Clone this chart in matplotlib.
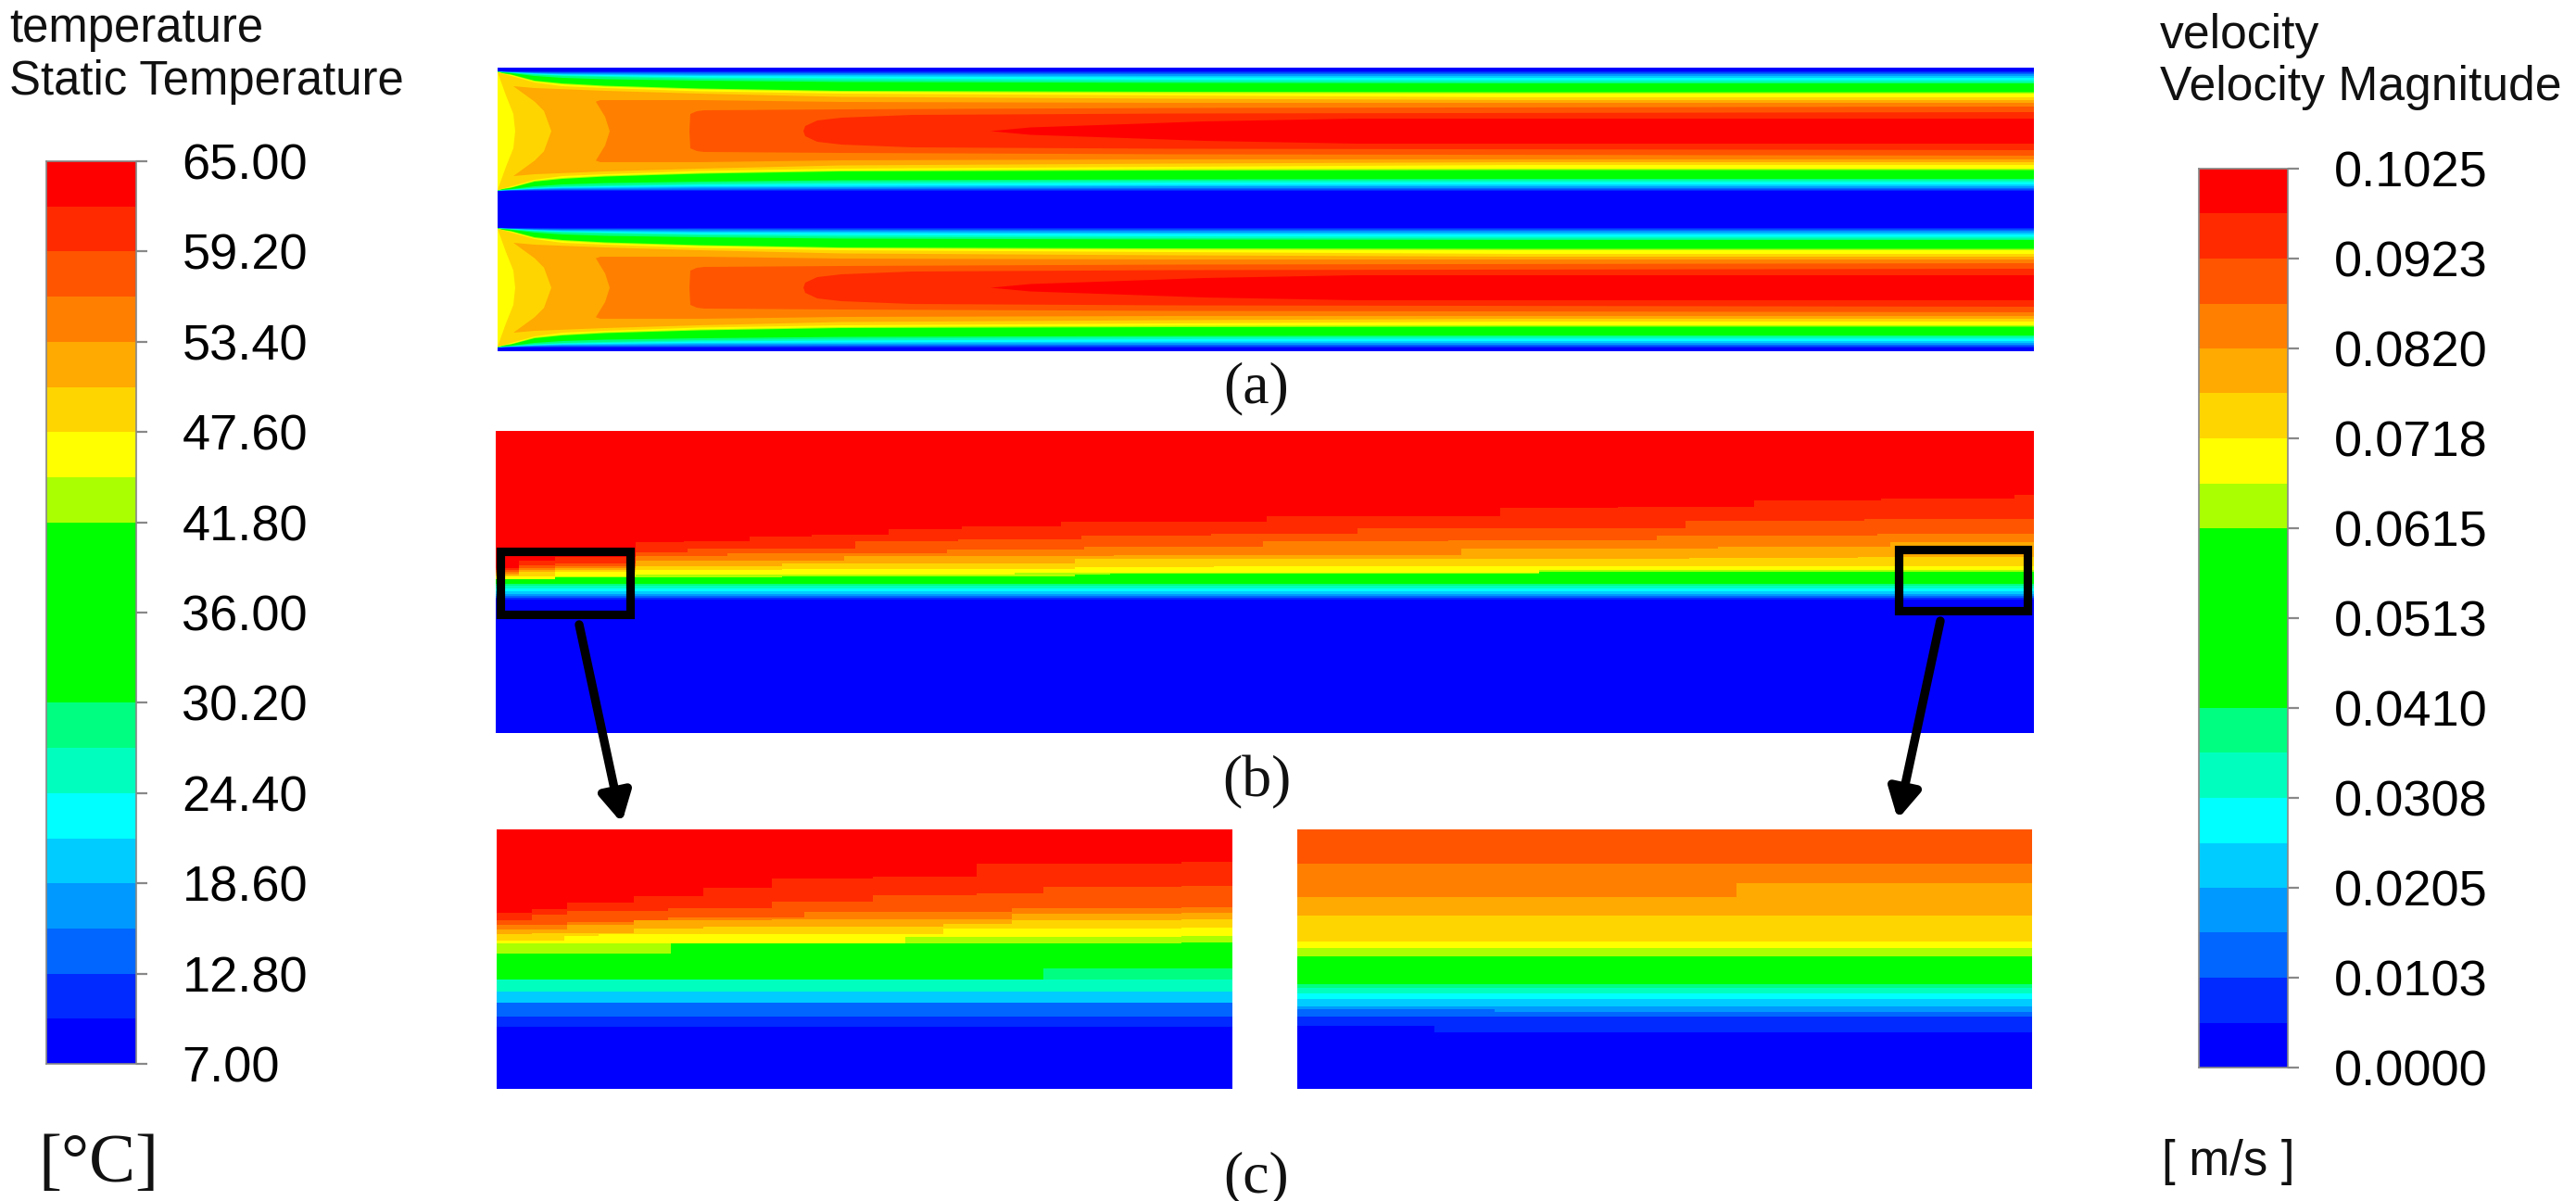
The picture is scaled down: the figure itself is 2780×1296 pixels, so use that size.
import matplotlib
matplotlib.use('Agg')
import matplotlib.pyplot as plt
from matplotlib.patches import Rectangle

W, H = 2780, 1296
plt.rcParams['font.family'] = ['Liberation Sans', 'DejaVu Sans']

# band colours, cold to hot (index 0 is the lowest band of the legend)
band_colors = ['#0000ff', '#002aff', '#0066ff', '#0099ff', '#00ccff', '#00ffff', '#00ffbf', '#00ff80',
               '#00ff00', '#00ff00', '#00ff00', '#00ff00', '#aaff00', '#ffff00', '#ffd500', '#ffaa00',
               '#ff8000', '#ff5500', '#ff2a00', '#ff0000']

temp_levels = [7.0, 9.9, 12.8, 15.7, 18.6, 21.5, 24.4, 27.3, 30.2, 33.1, 36.0, 38.9, 41.8, 44.7, 47.6,
               50.5, 53.4, 56.3, 59.2, 62.1, 65.0]
temp_ticks = [7.00, 12.80, 18.60, 24.40, 30.20, 36.00, 41.80, 47.60, 53.40, 59.20, 65.00]
vel_levels = [0.0, 0.0051, 0.0103, 0.0154, 0.0205, 0.0256, 0.0308, 0.0359, 0.0410, 0.0461, 0.0513,
              0.0564, 0.0615, 0.0666, 0.0718, 0.0769, 0.0820, 0.0871, 0.0923, 0.0974, 0.1025]
vel_ticks = [0.0, 0.0103, 0.0205, 0.0308, 0.0410, 0.0513, 0.0615, 0.0718, 0.0820, 0.0923, 0.1025]

# panel (a): contour of each band as (distance along tube, distance from wall)
tube_centres = [68.5, 237.5]
tube_half = 64.5
wall_x = [0, 6, 15, 40, 70, 116, 218, 371, 728, 1100, 1658]
wall_bands = {
    1: [0, 0, 0, 0, 0, 0, 0, 0, 0, 0, 0],
    2: [.1, .3, .5, .8, 1, 1, 1, 1.5, 1.5, 1.5, 1.5],
    3: [.2, .5, .8, 1.5, 2, 2, 2.5, 2.5, 3, 3, 3],
    4: [.3, .7, 1, 2, 2.8, 3, 3.8, 4, 5, 5, 5],
    5: [.3, .8, 1.2, 2.5, 3.5, 4, 5, 5.5, 6.5, 7, 7],
    6: [.4, .9, 1.4, 3, 4.2, 5, 6.5, 7.5, 9, 9.5, 9.5],
    7: [.4, 1, 1.5, 3.5, 5, 6, 8, 9.5, 11, 11.5, 11.5],
    8: [.5, 1.2, 2, 5, 7, 8.5, 10, 11.5, 12.5, 13, 13],
    12: [.6, 2, 3.5, 10, 13, 15.5, 18.5, 21, 22, 22.5, 22.5],
    13: [.8, 2.5, 4, 11, 14, 16.5, 19.5, 22, 23.5, 24, 24],
}
core_bands = {
    14: ([19, 17, 9, 0, 15, 40, 70, 116, 218, 371, 728, 1100, 1658],
         [64.5, 46, 26, 1, 5, 12, 16, 18, 21.5, 24, 26, 28, 28]),
    15: ([58, 50, 40, 17, 40, 116, 218, 371, 728, 1100, 1658],
         [64.5, 42.7, 32.7, 16, 18, 21, 24, 27.5, 29.5, 31, 31]),
    16: ([121, 116, 106, 111, 218, 371, 728, 1658],
         [64.5, 49, 32.7, 31, 31, 33, 34, 34]),
    17: ([207, 208, 215, 223, 371, 728, 1658],
         [64.5, 46, 43, 42, 41, 39.5, 38]),
    18: ([330, 332, 345, 371, 447, 728, 1658],
         [64.5, 59, 53, 50, 47, 45.5, 44]),
    19: ([532, 575, 678, 763, 927, 1658],
         [64.5, 60.5, 57, 54, 51, 51]),
}

# panel (b): top edge of each band along the tube, hot to cold
b_edges = {
    18: ([0, 25, 64, 151, 203, 274, 341, 424, 503, 610, 832, 1084, 1211, 1358, 1495, 1639],
         [148, 140, 136, 120, 119, 114, 112, 106, 103, 98, 92, 83, 82, 75, 73, 69]),
    17: ([0, 25, 64, 151, 207, 388, 499, 632, 772, 930, 1284, 1477],
         [150, 145, 143, 131, 127, 119, 117, 113, 111, 105, 97, 95]),
    16: ([0, 25, 64, 151, 250, 487, 635, 828, 1028, 1253, 1491],
         [152, 148, 146, 135, 132, 128, 125, 119, 118, 113, 111]),
    15: ([0, 25, 64, 151, 376, 667, 1042, 1319, 1505],
         [154, 150, 148, 140, 135, 134, 127, 125, 120]),
    14: ([0, 25, 64, 151, 309, 625, 1288, 1470],
         [156, 152, 150, 146, 143, 138, 137, 136]),
    13: ([0, 64, 151, 309, 625, 775], [157, 152, 150, 149, 147, 146]),
    12: ([0, 64, 151, 560, 1126], [160, 157, 155, 153, 150]),
    8: ([0, 64, 309, 625, 663, 1126], [160, 158, 157, 155, 154, 152]),
    7: ([0], [165]),
    6: ([0], [167]),
    5: ([0], [170]),
    4: ([0], [173]),
    3: ([0], [176]),
    2: ([0], [178]),
    1: ([0], [180]),
    0: ([0], [182]),
}

# panel (c), left detail
c1_edges = {
    18: ([0, 38, 76, 148, 223, 297, 406, 518, 739], [90, 86, 79, 72, 63, 53, 51, 37, 35]),
    17: ([0, 38, 76, 185, 297, 406, 518, 590, 739], [98, 92, 88, 85, 78, 71, 69, 62, 61]),
    16: ([0, 76, 185, 332, 556, 739], [103, 100, 95, 89, 85, 84]),
    15: ([0, 76, 148, 297, 556, 739], [108, 103, 98, 97, 91, 90]),
    14: ([0, 38, 148, 223, 482, 556, 739], [113, 112, 107, 105, 102, 98, 97]),
    13: ([0, 73, 110, 482, 739], [120, 115, 113, 107, 106]),
    12: ([0, 441, 739], [123, 116, 115]),
    8: ([0, 188, 739], [134, 123, 122]),
    7: ([0, 590], [162, 150]),
    6: ([0], [162]),
    4: ([0], [175]),
    2: ([0], [187]),
    1: ([0], [202]),
    0: ([0], [213]),
}

# panel (c), right detail
c2_edges = {
    16: ([0], [37]),
    15: ([0, 474], [73, 58]),
    14: ([0], [93]),
    13: ([0], [121]),
    12: ([0], [128]),
    8: ([0], [137]),
    7: ([0], [167]),
    6: ([0], [171]),
    5: ([0], [177]),
    4: ([0], [183]),
    3: ([0], [191]),
    2: ([0, 213], [194, 197]),
    1: ([0], [202]),
    0: ([0, 148], [212, 219]),
}

fig = plt.figure(figsize=(W / 200, H / 200), dpi=200, facecolor='white')


def make_axes(x0, y0, x1, y1):
    ax = fig.add_axes([x0 / W, 1 - y1 / H, (x1 - x0) / W, (y1 - y0) / H])
    return ax


def draw_steps(ax, edges, base, width, height):
    # hot bands first, every colder band paints from its top edge to the bottom
    ax.set_xlim(0, width)
    ax.set_ylim(height, 0)
    ax.set_facecolor(band_colors[base])
    ax.axis('off')
    ax.add_patch(Rectangle((0, 0), width, height, color=band_colors[base], lw=0))
    for band in sorted(edges, reverse=True):
        xs, ys = edges[band]
        xs = list(xs) + [width]
        ys = list(ys) + [ys[-1]]
        ax.fill_between(xs, ys, height, step='post', color=band_colors[band], lw=0)


def legend_bar(bounds, levels, ticks, fmt):
    ax = make_axes(*bounds)
    ax.pcolormesh([0, 1], levels, [[i] for i in range(20)], cmap=matplotlib.colors.ListedColormap(band_colors),
                  vmin=-0.5, vmax=19.5)
    ax.set_xticks([])
    ax.yaxis.tick_right()
    ax.set_yticks(ticks)
    ax.set_yticklabels([fmt % t for t in ticks], fontsize=19.5)
    ax.tick_params(axis='y', length=4.3, width=0.8, color='#888888', pad=13.5)
    for s in ax.spines.values():
        s.set_color('#888888')
        s.set_linewidth(0.6)
    return ax


legend_bar((50, 174, 147, 1148), temp_levels, temp_ticks, '%.2f')
legend_bar((2373, 182, 2469, 1152), vel_levels, vel_ticks, '%.4f')

# panel (a)
ax_a = make_axes(537, 73, 2195, 379)
ax_a.set_xlim(0, 1658)
ax_a.set_ylim(306, 0)
ax_a.axis('off')
ax_a.add_patch(Rectangle((0, 0), 1658, 306, color=band_colors[0], lw=0))
for c in tube_centres:
    for band in sorted(wall_bands):
        d = wall_bands[band]
        top = [c - tube_half + v for v in d]
        low = [c + tube_half - v for v in d]
        ax_a.fill(wall_x + wall_x[::-1], top + low[::-1], color=band_colors[band], lw=0)
    for band in sorted(core_bands):
        xs, d = core_bands[band]
        top = [c - tube_half + v for v in d]
        low = [c + tube_half - v for v in d]
        ax_a.fill(xs + xs[::-1], top + low[::-1], color=band_colors[band], lw=0)

# panel (b)
ax_b = make_axes(535, 465, 2195, 791)
draw_steps(ax_b, b_edges, 19, 1660, 326)
ax_b.add_patch(Rectangle((5, 130), 140, 68, fill=False, ec='black', lw=3.3, clip_on=False))
ax_b.add_patch(Rectangle((1514, 128), 139, 66, fill=False, ec='black', lw=3.3, clip_on=False))

# panel (c)
ax_c1 = make_axes(536, 895, 1330, 1175)
draw_steps(ax_c1, c1_edges, 19, 794, 280)
ax_c2 = make_axes(1400, 895, 2193, 1175)
draw_steps(ax_c2, c2_edges, 17, 793, 280)

# overlay for arrows and captions, in picture pixels
over = fig.add_axes([0, 0, 1, 1])
over.set_xlim(0, W)
over.set_ylim(H, 0)
over.axis('off')
over.patch.set_alpha(0)
for start, tip in [((625, 674), (671, 888)), ((2094, 670), (2048, 884))]:
    over.annotate('', xy=tip, xytext=start,
                  arrowprops=dict(arrowstyle='-|>,head_length=0.55,head_width=0.3', color='black', lw=3.4,
                                  mutation_scale=17, shrinkA=0, shrinkB=0))

over.text(10, 45, 'temperature', fontsize=18.3, va='baseline', color='#111111')
over.text(10, 102, 'Static Temperature', fontsize=18.3, va='baseline', color='#111111')
over.text(2331, 52, 'velocity', fontsize=18.6, va='baseline', color='#111111')
over.text(2331, 108, 'Velocity Magnitude', fontsize=18.6, va='baseline', color='#111111')
over.text(2333, 1254, '[ m/s ]', fontsize=19, va='center', color='#111111')
over.text(106, 1257, '[°C]', fontsize=27, ha='center', va='center', family='Liberation Serif', color='#111111')
for label, y in [('(a)', 419), ('(b)', 844), ('(c)', 1271)]:
    over.text(1356, y, label, fontsize=23, ha='center', va='center', family='Liberation Serif', color='#111111')

fig.savefig('out.png', dpi=200, facecolor='white')
